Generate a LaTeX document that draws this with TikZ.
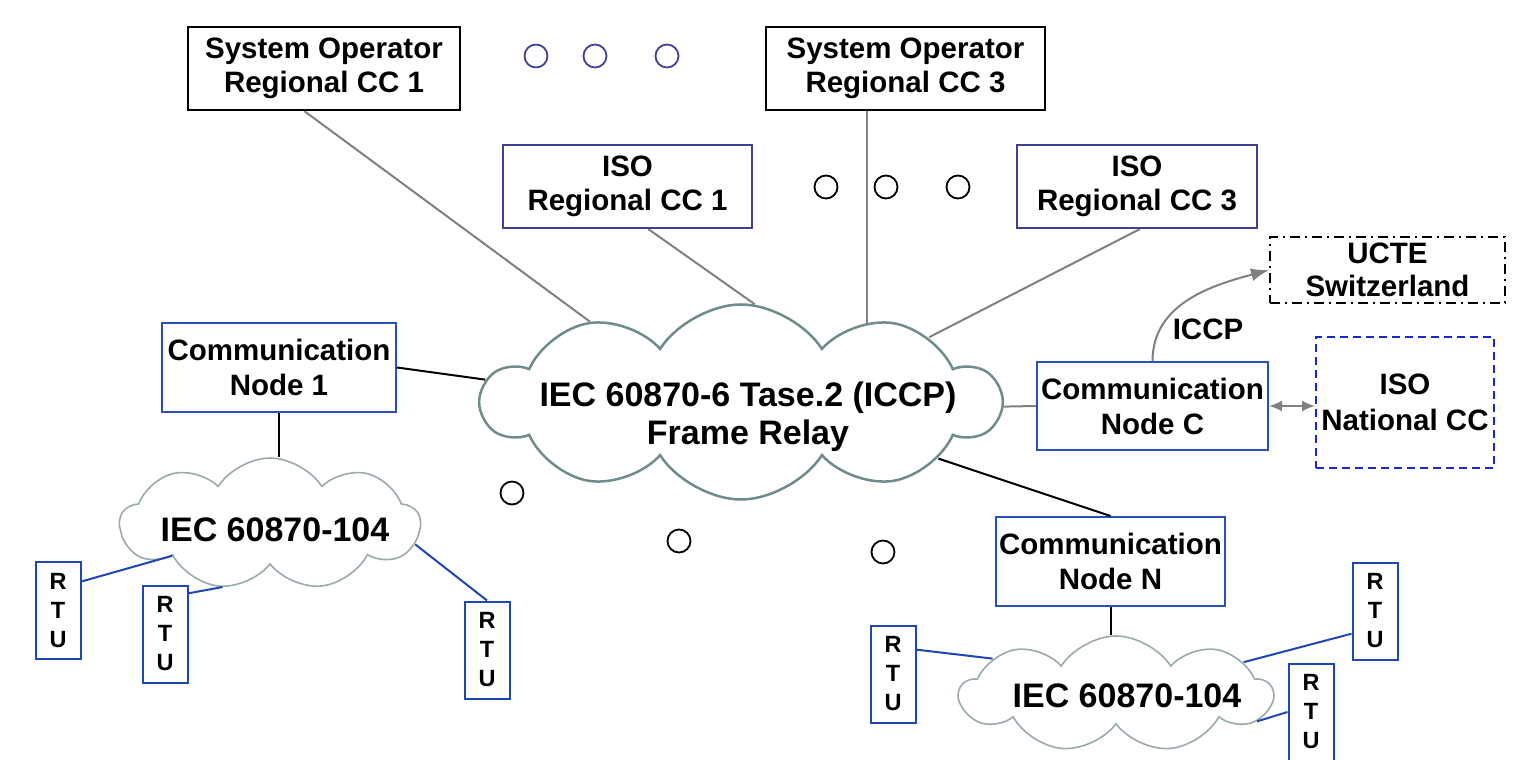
\documentclass[tikz,border=0pt]{standalone}
\usepackage{fontspec}
\setmainfont{Liberation Sans}
\usetikzlibrary{arrows.meta,shapes.symbols}

\definecolor{isoblue}{HTML}{40409A}
\definecolor{commblue}{HTML}{2850B8}
\definecolor{rtublue}{HTML}{1E46B4}
\definecolor{natblue}{HTML}{1A28D0}
\definecolor{linkgray}{HTML}{808080}
\definecolor{cloudgray}{HTML}{6E8C8C}
\definecolor{puffgray}{HTML}{9AAAAA}

\pgfdeclarelayer{background}
\pgfsetlayers{background,main}

\tikzset{
  ccbox/.style={draw, line width=2pt, rectangle, inner sep=0pt, align=center,
    font=\fontsize{29.5}{34}\selectfont\bfseries},
  sobox/.style={ccbox, draw=black},
  isobox/.style={ccbox, draw=isoblue},
  commbox/.style={ccbox, draw=commblue, font=\fontsize{29.5}{35}\selectfont\bfseries},
  rtubox/.style={ccbox, draw=rtublue, minimum width=45pt, minimum height=97pt,
    font=\fontsize{23.5}{29}\selectfont\bfseries},
  netcloud/.style={cloud, cloud puffs=10, cloud puff arc=115, cloud ignores aspect,
    draw=cloudgray, fill=white, line width=2.5pt, inner sep=0pt},
  fieldcloud/.style={netcloud, cloud puffs=9, draw=puffgray, line width=1.6pt},
  cloudtext/.style={inner sep=0pt, align=center, font=\fontsize{34}{38}\selectfont\bfseries},
  link/.style={line width=2pt, linkgray},
  blacklink/.style={line width=2pt, black},
  rtulink/.style={line width=2pt, rtublue},
  dots/.style={line width=1.8pt}
}

\begin{document}
\begin{tikzpicture}[x=1pt,y=-1pt]
  \useasboundingbox (0,0) rectangle (1540,760);
  % control centres
  \node[sobox, minimum width=272pt, minimum height=83pt] (so1) at (324,68.5) {System Operator\\Regional CC 1};
  \node[sobox, minimum width=279pt, minimum height=83pt] (so3) at (905.5,68.5) {System Operator\\Regional CC 3};
  \node[isobox, minimum width=249pt, minimum height=83pt] (iso1) at (627.5,186.5) {ISO\\Regional CC 1};
  \node[isobox, minimum width=240pt, minimum height=83pt] (iso3) at (1137,186.5) {ISO\\Regional CC 3};
  \node[ccbox, dash pattern=on 10pt off 5pt on 2pt off 5pt, minimum width=235pt, minimum height=66pt,
    font=\fontsize{29.5}{33}\selectfont\bfseries] (ucte) at (1387.5,270) {UCTE\\Switzerland};
  \node[ccbox, draw=natblue, dash pattern=on 8pt off 5pt, minimum width=178pt, minimum height=131pt,
    font=\fontsize{29.5}{36}\selectfont\bfseries] (isonat) at (1405,402.5) {ISO\\National CC};
  % communication nodes
  \node[commbox, minimum width=234pt, minimum height=89pt] (comm1) at (279,367.5) {Communication\\Node 1};
  \node[commbox, minimum width=231pt, minimum height=88pt] (commC) at (1152.5,406) {Communication\\Node C};
  \node[commbox, minimum width=229pt, minimum height=89pt] (commN) at (1110.5,561.5) {Communication\\Node N};
  % networks
  \node[netcloud, minimum width=517pt, minimum height=195pt] (big) at (741,402) {};
  \node[cloudtext] (bigtext) at (748,417) {IEC 60870-6 Tase.2 (ICCP)\\Frame Relay};
  \node[fieldcloud, minimum width=300pt, minimum height=132pt] (lcloud) at (270,524) {};
  \node[cloudtext] (ltext) at (275,530) {IEC 60870-104};
  \node[fieldcloud, minimum width=312pt, minimum height=116pt] (rcloud) at (1116,694) {};
  \node[cloudtext] (rtext) at (1127,696) {IEC 60870-104};
  % remote terminal units
  \node[rtubox] (rtu1) at (58,610.5) {R\\T\\U};
  \node[rtubox] (rtu2) at (165,634) {R\\T\\U};
  \node[rtubox] (rtu3) at (487,650) {R\\T\\U};
  \node[rtubox] (rtu4) at (893,674) {R\\T\\U};
  \node[rtubox] (rtu5) at (1375,611) {R\\T\\U};
  \node[rtubox] (rtu6) at (1311,712) {R\\T\\U};
  % backbone links
  \begin{pgfonlayer}{background}
    \draw[link] (so1.245) -- (big.152);
    \draw[link] (iso1.-64) -- (big.82);
    \draw[link] (so3.228) -- (so3.228 |- big.center);
    \draw[link] (iso3.-86) -- (big.19);
  \end{pgfonlayer}
  \draw[link] (commC.west) -- (big.-1);
  \draw[blacklink] (comm1.east) -- (big.175);
  \draw[blacklink] (big.-16) -- (commN.north);
  \draw[blacklink] (comm1.south) -- (comm1.south |- lcloud.north);
  \draw[blacklink] (commN.south) -- (commN.south |- rcloud.north);
  % national links
  \draw[link, -{Latex[length=18pt,width=13pt]}] (commC.north) to[out=90,in=195] (ucte.west);
  \node[font=\fontsize{29.5}{34}\selectfont\bfseries, inner sep=0pt] (iccp) at (1208,329) {ICCP};
  \draw[link, {Latex[length=13pt,width=11pt]}-{Latex[length=13pt,width=11pt]}] (commC.east) -- (commC.east -| isonat.west);
  % field links
  \draw[rtulink] (rtu1.51) -- (lcloud.198);
  \draw[rtulink] (rtu2.60) -- (lcloud.233);
  \draw[rtulink] (rtu3.north) -- (lcloud.-8);
  \draw[rtulink] (rtu4.46) -- (rcloud.164);
  \draw[rtulink] (rtu5.224) -- (rcloud.14);
  \draw[rtulink] (rtu6.west) -- (rcloud.-11);
  % more of the same
  \foreach \x in {536,595,667}
    \draw[dots, isoblue] (\x,56) circle (11.5);
  \foreach \x/\y in {826/187, 886/187, 958/187, 512/493, 679/541, 883/552}
    \draw[dots] (\x,\y) circle (11.5);
\end{tikzpicture}
\end{document}
